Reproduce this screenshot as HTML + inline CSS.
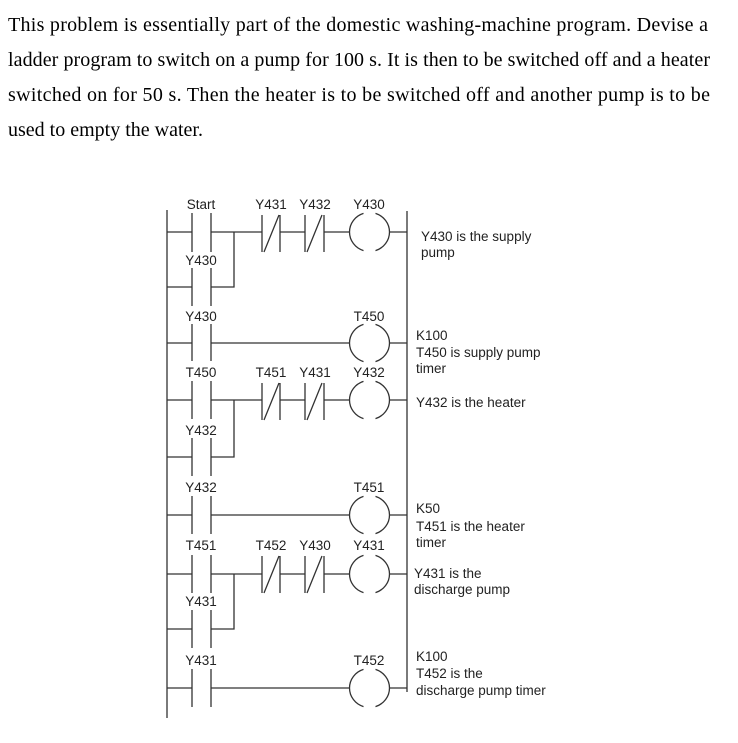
<!DOCTYPE html>
<html><head><meta charset="utf-8"><style>
html,body{margin:0;padding:0;background:#fff;}
svg{display:block;}
.p{font-family:"Liberation Serif",serif;font-size:20px;fill:#000;}
.s{font-family:"Liberation Sans",sans-serif;font-size:13.5px;fill:#222;}
.l{font-family:"Liberation Sans",sans-serif;font-size:13.5px;fill:#222;text-anchor:middle;}
</style></head><body>
<svg width="738" height="743" viewBox="0 0 738 743">
<text class="p" x="8" y="31" textLength="700" lengthAdjust="spacing">This problem is essentially part of the domestic washing-machine program. Devise a</text>
<text class="p" x="8" y="66" textLength="702" lengthAdjust="spacing">ladder program to switch on a pump for 100 s. It is then to be switched off and a heater</text>
<text class="p" x="8" y="101" textLength="702" lengthAdjust="spacing">switched on for 50 s. Then the heater is to be switched off and another pump is to be</text>
<text class="p" x="8" y="136">used to empty the water.</text>

<defs>
<g id="coil" stroke="#333" stroke-width="1.3" fill="none">
<path d="M-6 -18.6 A20 19.5 0 0 0 -6 18.6"/>
<path d="M6 -18.6 A20 19.5 0 0 1 6 18.6"/>
</g>
</defs>
<g stroke="#333" stroke-width="1.3" fill="none">
<line x1="167" y1="210" x2="167" y2="718"/>
<line x1="407" y1="211" x2="407" y2="692"/>
<path d="M167 232H192M211 232H262M280 232H305M324 232H350M389 232H407"/>
<path d="M167 287H192M211 287H234V232"/>
<path d="M192 213V252M211 213V252M192 268V306M211 268V306"/>
<path d="M262 215V252M280 215V252M264 252L279 215M305 215V252M324 215V252M307 252L322 215"/>
<path d="M167 343H192M211 343H350M389 343H407"/>
<path d="M192 324V361M211 324V361"/>
<path d="M167 400H192M211 400H262M280 400H305M324 400H350M389 400H407"/>
<path d="M167 457H192M211 457H234V400"/>
<path d="M192 381V419M211 381V419M192 438V476M211 438V476"/>
<path d="M262 383V420M280 383V420M264 420L279 383M305 383V420M324 383V420M307 420L322 383"/>
<path d="M167 515H192M211 515H350M389 515H407"/>
<path d="M192 496V534M211 496V534"/>
<path d="M167 574H192M211 574H262M280 574H305M324 574H350M389 574H407"/>
<path d="M167 629H192M211 629H234V574"/>
<path d="M192 555V593M211 555V593M192 610V648M211 610V648"/>
<path d="M262 556V593M280 556V593M264 593L279 556M305 556V593M324 556V593M307 593L322 556"/>
<path d="M167 688H192M211 688H350M389 688H407"/>
<path d="M192 669V707M211 669V707"/>
</g>
<use href="#coil" x="369.5" y="232"/>
<use href="#coil" x="369.5" y="343"/>
<use href="#coil" x="369.5" y="400"/>
<use href="#coil" x="369.5" y="515"/>
<use href="#coil" x="369.5" y="574"/>
<use href="#coil" x="369.5" y="688"/>
<g>
<text class="l" x="201" y="209">Start</text><text class="l" x="271" y="209">Y431</text><text class="l" x="315" y="209">Y432</text><text class="l" x="369" y="209">Y430</text>
<text class="l" x="201" y="265">Y430</text>
<text class="l" x="201" y="321">Y430</text><text class="l" x="369" y="321">T450</text>
<text class="l" x="201" y="377">T450</text><text class="l" x="271" y="377">T451</text><text class="l" x="315" y="377">Y431</text><text class="l" x="369" y="377">Y432</text>
<text class="l" x="201" y="435">Y432</text>
<text class="l" x="201" y="492">Y432</text><text class="l" x="369" y="492">T451</text>
<text class="l" x="201" y="550">T451</text><text class="l" x="271" y="550">T452</text><text class="l" x="315" y="550">Y430</text><text class="l" x="369" y="550">Y431</text>
<text class="l" x="201" y="606">Y431</text>
<text class="l" x="201" y="665">Y431</text><text class="l" x="369" y="665">T452</text>
</g>
<text class="s" x="421" y="241">Y430 is the supply</text>
<text class="s" x="421" y="257">pump</text>
<text class="s" x="416" y="340">K100</text>
<text class="s" x="416" y="357">T450 is supply pump</text>
<text class="s" x="416" y="373">timer</text>
<text class="s" x="416" y="407">Y432 is the heater</text>
<text class="s" x="416" y="513">K50</text>
<text class="s" x="416" y="531">T451 is the heater</text>
<text class="s" x="416" y="547">timer</text>
<text class="s" x="414" y="578">Y431 is the</text>
<text class="s" x="414" y="594">discharge pump</text>
<text class="s" x="416" y="661">K100</text>
<text class="s" x="416" y="678">T452 is the</text>
<text class="s" x="416" y="695">discharge pump timer</text>
</svg>
</body></html>
